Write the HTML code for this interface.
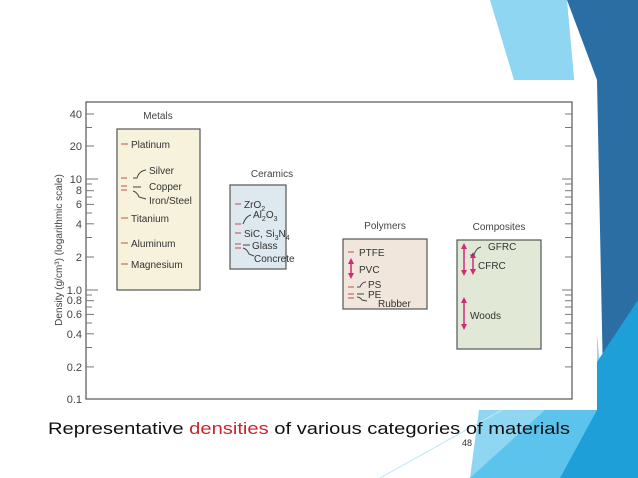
<!DOCTYPE html>
<html><head><meta charset="utf-8"><style>
html,body{margin:0;padding:0;background:#fff;}
svg{display:block;}
text{font-family:"Liberation Sans",sans-serif;}
</style></head><body>
<svg width="638" height="478" viewBox="0 0 638 478" xmlns="http://www.w3.org/2000/svg">
<!-- background decorations -->
<polygon points="490,0 567,0 610,478 470,478 520,100" fill="#8fd6f2"/>
<polygon points="567,0 638,0 638,478 605,478 597,80" fill="#2a6ea4"/>
<polygon points="638,300 638,478 520,478" fill="#1f9fd8"/>
<polygon points="470,478 545,410 597,410 560,478" fill="#5cc4ec"/>
<line x1="380" y1="478" x2="520" y2="400" stroke="#bfe6f5" stroke-width="1"/>
<!-- image area -->
<rect x="40" y="80" width="557" height="330" fill="#fff"/>
<rect x="86" y="102" width="486" height="297" fill="none" stroke="#555" stroke-width="1.2"/>
<g stroke="#777" stroke-width="1">
<line x1="86" y1="114" x2="94" y2="114"/><line x1="86" y1="127.5" x2="92" y2="127.5"/><line x1="86" y1="146" x2="94" y2="146"/>
<line x1="86" y1="179" x2="98" y2="179"/><line x1="86" y1="184" x2="92" y2="184"/><line x1="86" y1="190.7" x2="94" y2="190.7"/><line x1="86" y1="197" x2="92" y2="197"/><line x1="86" y1="204.4" x2="94" y2="204.4"/><line x1="86" y1="213" x2="92" y2="213"/><line x1="86" y1="223.8" x2="94" y2="223.8"/><line x1="86" y1="237.5" x2="92" y2="237.5"/><line x1="86" y1="257" x2="94" y2="257"/>
<line x1="86" y1="290" x2="98" y2="290"/><line x1="86" y1="295" x2="92" y2="295"/><line x1="86" y1="300.7" x2="94" y2="300.7"/><line x1="86" y1="307" x2="92" y2="307"/><line x1="86" y1="314.4" x2="94" y2="314.4"/><line x1="86" y1="323" x2="92" y2="323"/><line x1="86" y1="333.8" x2="94" y2="333.8"/><line x1="86" y1="347.5" x2="92" y2="347.5"/><line x1="86" y1="366.9" x2="94" y2="366.9"/>
<line x1="565" y1="114" x2="572" y2="114"/><line x1="565" y1="127.5" x2="572" y2="127.5"/><line x1="565" y1="146" x2="572" y2="146"/>
<line x1="562" y1="179" x2="572" y2="179"/><line x1="565" y1="184" x2="572" y2="184"/><line x1="565" y1="190.7" x2="572" y2="190.7"/><line x1="565" y1="197" x2="572" y2="197"/><line x1="565" y1="204.4" x2="572" y2="204.4"/><line x1="565" y1="213" x2="572" y2="213"/><line x1="565" y1="223.8" x2="572" y2="223.8"/><line x1="565" y1="237.5" x2="572" y2="237.5"/><line x1="565" y1="257" x2="572" y2="257"/>
<line x1="562" y1="290" x2="572" y2="290"/><line x1="565" y1="295" x2="572" y2="295"/><line x1="565" y1="300.7" x2="572" y2="300.7"/><line x1="565" y1="307" x2="572" y2="307"/><line x1="565" y1="314.4" x2="572" y2="314.4"/><line x1="565" y1="323" x2="572" y2="323"/><line x1="565" y1="333.8" x2="572" y2="333.8"/><line x1="565" y1="347.5" x2="572" y2="347.5"/><line x1="565" y1="366.9" x2="572" y2="366.9"/>
</g>
<g font-size="11" fill="#444" text-anchor="end">
<text x="82" y="118">40</text><text x="82" y="150">20</text><text x="82" y="183">10</text><text x="82" y="194">8</text><text x="82" y="208">6</text><text x="82" y="228">4</text><text x="82" y="261">2</text>
<text x="82" y="294">1.0</text><text x="82" y="304">0.8</text><text x="82" y="318">0.6</text><text x="82" y="338">0.4</text><text x="82" y="371">0.2</text><text x="82" y="403">0.1</text>
</g>
<text transform="translate(62,250) rotate(-90)" font-size="10" fill="#444" text-anchor="middle">Density (g/cm³) (logarithmic scale)</text>

<text x="158" y="119" font-size="10" fill="#444" text-anchor="middle">Metals</text>
<rect x="117" y="129" width="83" height="161" fill="#f6f2dc" stroke="#555" stroke-width="1.2"/>
<g stroke="#c0504d" stroke-width="1"><line x1="121" y1="144" x2="128" y2="144"/><line x1="121" y1="178" x2="127" y2="178"/><line x1="121" y1="186" x2="127" y2="186"/><line x1="121" y1="190" x2="127" y2="190"/><line x1="121" y1="218" x2="128" y2="218"/><line x1="121" y1="243" x2="128" y2="243"/><line x1="121" y1="264" x2="128" y2="264"/></g>
<g stroke="#444" fill="none" stroke-width="1"><path d="M133,178 L137,178 Q139,171 146,170"/><line x1="133" y1="187" x2="141" y2="187"/><path d="M133,191 Q137,192 139,197 L146,199"/></g>
<g font-size="10" fill="#333">
<text x="131" y="148">Platinum</text><text x="149" y="174">Silver</text><text x="149" y="190">Copper</text><text x="149" y="204">Iron/Steel</text><text x="131" y="222">Titanium</text><text x="131" y="247">Aluminum</text><text x="131" y="268">Magnesium</text>
</g>
<text x="272" y="177" font-size="10" fill="#444" text-anchor="middle">Ceramics</text>
<rect x="230" y="185" width="56" height="84" fill="#dde8ef" stroke="#555" stroke-width="1.2"/>
<g stroke="#c0504d" stroke-width="1"><line x1="235" y1="204" x2="241" y2="204"/><line x1="235" y1="224" x2="241" y2="224"/><line x1="235" y1="233" x2="241" y2="233"/><line x1="235" y1="244" x2="241" y2="244"/><line x1="235" y1="248" x2="241" y2="248"/></g>
<g stroke="#444" fill="none"><path d="M243,224 Q246,216 251,215"/><line x1="243" y1="245" x2="250" y2="245"/><path d="M243,248 Q247,249 249,254 L254,256"/></g>
<g font-size="10" fill="#333">
<text x="244" y="208">ZrO<tspan font-size="7" dy="3">2</tspan></text>
<text x="253" y="218">Al<tspan font-size="7" dy="3">2</tspan><tspan dy="-3">O</tspan><tspan font-size="7" dy="3">3</tspan></text>
<text x="244" y="237">SiC, Si<tspan font-size="7" dy="3">3</tspan><tspan dy="-3">N</tspan><tspan font-size="7" dy="3">4</tspan></text>
<text x="252" y="249">Glass</text><text x="254" y="262">Concrete</text>
</g>
<text x="385" y="229" font-size="10" fill="#444" text-anchor="middle">Polymers</text>
<rect x="343" y="239" width="84" height="70" fill="#f0e6dc" stroke="#555" stroke-width="1.2"/>
<g stroke="#c0504d" stroke-width="1"><line x1="348" y1="252" x2="354" y2="252"/><line x1="348" y1="287" x2="354" y2="287"/><line x1="348" y1="294" x2="354" y2="294"/><line x1="348" y1="298" x2="354" y2="298"/></g>
<g stroke="#d02a7a" stroke-width="1.5"><line x1="351" y1="262" x2="351" y2="275"/></g>
<polygon points="351,258 348,264 354,264" fill="#d02a7a"/><polygon points="351,279 348,273 354,273" fill="#d02a7a"/>
<g stroke="#444" fill="none"><path d="M357,287 L360,287 Q362,282 366,282"/><line x1="357" y1="294" x2="364" y2="294"/><path d="M357,297 Q360,297 362,300 L367,301"/></g>
<g font-size="10" fill="#333"><text x="359" y="256">PTFE</text><text x="359" y="273">PVC</text><text x="368" y="288">PS</text><text x="368" y="298">PE</text><text x="378" y="307">Rubber</text></g>
<text x="499" y="230" font-size="10" fill="#444" text-anchor="middle">Composites</text>
<rect x="457" y="240" width="84" height="109" fill="#e1e8d6" stroke="#555" stroke-width="1.2"/>
<g stroke="#d02a7a" stroke-width="1.5"><line x1="464" y1="247" x2="464" y2="273"/><line x1="473" y1="255" x2="473" y2="272"/><line x1="464" y1="300" x2="464" y2="327"/></g>
<g fill="#d02a7a"><polygon points="464,243 461,249 467,249"/><polygon points="464,276 461,270 467,270"/><polygon points="473,252 470,258 476,258"/><polygon points="473,275 470,269 476,269"/><polygon points="464,297 461,303 467,303"/><polygon points="464,330 461,324 467,324"/></g>
<path d="M470,255 L474,255 Q476,248 481,247" stroke="#444" fill="none"/>
<g font-size="10" fill="#333"><text x="488" y="250">GFRC</text><text x="478" y="269">CFRC</text><text x="470" y="319">Woods</text></g>

<text x="48" y="434" font-family="DejaVu Sans,sans-serif" font-size="16.5" fill="#111" textLength="522" lengthAdjust="spacingAndGlyphs">Representative <tspan fill="#c8262b">densities</tspan> of various categories of materials</text>
<text x="462" y="446" font-family="DejaVu Sans,sans-serif" font-size="9" fill="#333">48</text>
</svg>
</body></html>
